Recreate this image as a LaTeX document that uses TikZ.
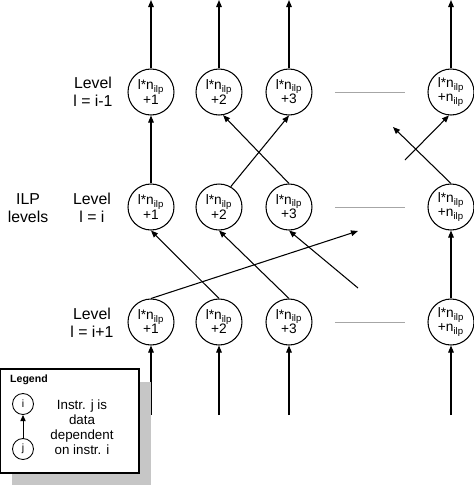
\documentclass[tikz,border=0pt]{standalone}
\usepackage{fontspec}
\setmainfont{Liberation Sans}
\usetikzlibrary{arrows.meta,positioning}

\begin{document}
\begin{tikzpicture}[x=0.02cm,y=-0.02cm,
    instr/.style={draw,circle,line width=0.6pt,minimum size=0.92cm,inner sep=0pt,align=center,
        font=\fontsize{7.8}{8}\selectfont},
    smallinstr/.style={draw,circle,line width=0.5pt,minimum size=0.42cm,inner sep=0pt,
        font=\fontsize{6}{7}\selectfont},
    dep/.style={line width=0.6pt,-{Triangle[length=4pt,width=3.2pt]}},
    lvl/.style={align=center,font=\fontsize{9}{10.2}\selectfont},
    dots/.style={gray!70,line width=0.5pt}]
\def\nilp{l*n\textsubscript{ilp}}
    \useasboundingbox (0,0) rectangle (474,485);

    %Nodos de instrucciones
    \foreach \r/\y in {t/92,m/207,b/322}{
        \foreach \c/\x/\k in {1/151/+1,2/219/+2,3/289/+3,4/451/+n\textsubscript{ilp}}{
            \node[instr] (\r\c) at (\x,\y) {\nilp\\\k};
        }
        \draw[dots] (335,\y) -- (405,\y);
    }

    %Etiquetas de niveles
    \node[lvl] (lt) at (93,92) {Level\\l = i-1};
    \node[lvl] (lm) at (92,208) {Level\\l = i};
    \node[lvl] (lb) at (92,323) {Level\\l = i+1};
    \node[lvl] (ilp) at (28,208) {ILP\\levels};

    %Entradas y salidas
    \foreach \c/\x in {1/151,2/219,3/289,4/451}{
        \coordinate (out\c) at (\x,0);
        \coordinate (in\c) at (\x,415);
        \draw[dep] (t\c.north) -- (out\c);
        \draw[dep] (in\c) -- (b\c.south);
    }

    %Dependencias entre l=i y l=i-1
    \coordinate (fa) at (393,127);
    \coordinate (fb) at (405,160);
    \draw[dep] (m1) -- (t1);
    \draw[dep] (m2.60) -- (t3.south);
    \draw[dep] (m3.north) -- (t2.-80);
    \draw[dep] (m4.north) -- (fa);
    \draw[dep] (fb) -- (t4.-95);

    %Dependencias entre l=i+1 y l=i
    \coordinate (fc) at (358,231);
    \coordinate (fd) at (358,288);
    \draw[dep] (b1.north) -- (fc);
    \draw[dep] (b2.north) -- (m1.south);
    \draw[dep] (b3.north) -- (m2.south);
    \draw[dep] (fd) -- (m3.south);
    \draw[dep] (b4) -- (m4);

    %Leyenda
    \fill[gray!45] (12,382) rectangle (151,485);
    \draw[fill=white,line width=0.6pt] (0,369) rectangle (139,473);
    \node[anchor=west,font=\fontsize{6}{7}\bfseries] (legend) at (4,380) {Legend};
    \node[smallinstr] (li) at (23,404) {i};
    \node[smallinstr] (lj) at (23,449) {j};
    \draw[line width=0.5pt,-{Triangle[length=3.5pt,width=3pt]}] (lj) -- (li);
    \node[align=center,font=\fontsize{7.6}{8.6}\selectfont] (legtext) at (82,427)
        {Instr. j is\\data\\dependent\\on instr. i};
\end{tikzpicture}
\end{document}
